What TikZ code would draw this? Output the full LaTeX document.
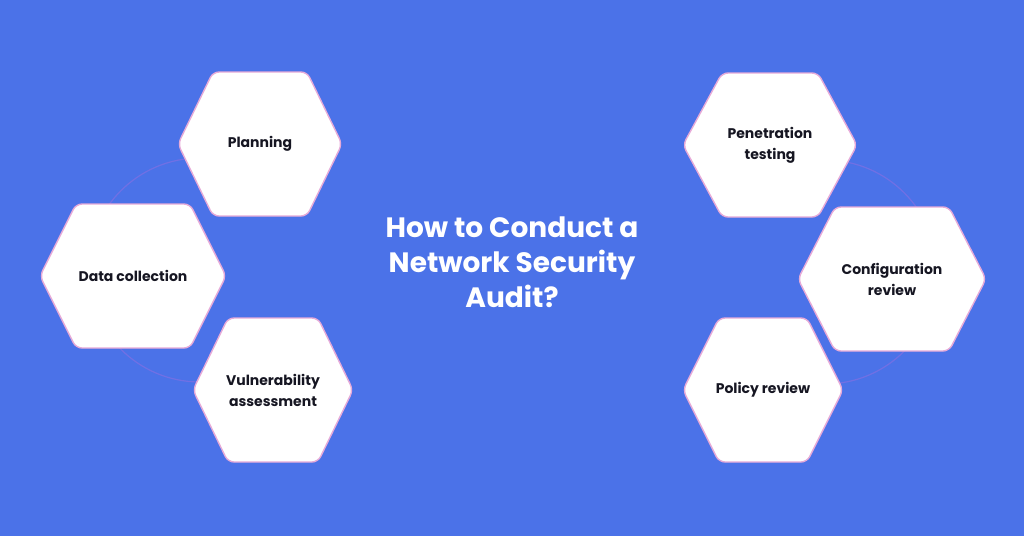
\documentclass[tikz,border=0pt]{standalone}
\usepackage{fontspec}
\setmainfont{Poppins}
\usepackage{xcolor}
\usepackage{tikz}
\usetikzlibrary{positioning}
\definecolor{bgblue}{RGB}{75,114,232}
\definecolor{hexpink}{RGB}{230,170,216}
\definecolor{ringviolet}{RGB}{112,112,228}
\definecolor{inkdark}{RGB}{22,22,34}

% hexagon step: name, centre, half width, half top edge, text
\newcommand{\hexstep}[5]{%
  \begin{scope}[shift={(#2)}]
    \draw[hexline] (0,-72) -- (#4,-72) -- (#3,0) -- (#4,72) -- (-#4,72) -- (-#3,0) -- (-#4,-72) -- cycle;
    \node[steplabel] (#1) at (0,0) {#5};
  \end{scope}}

\begin{document}
\begin{tikzpicture}[
        x=1pt, y=-1pt,
        hexline/.style={rounded corners=6pt, draw=hexpink, line width=1.4pt, fill=white},
        steplabel/.style={align=center, font=\bfseries\fontsize{14}{21}\selectfont, text=inkdark},
        ring/.style={draw=ringviolet, line width=1.2pt},
        heading/.style={align=center, font=\bfseries\fontsize{28}{35}\selectfont, text=white}
      ]
        \fill[bgblue] (0,0) rectangle (1024,536);
        \useasboundingbox (0,0) rectangle (1024,536);
        \coordinate (lring) at (200,270);
        \coordinate (rring) at (825,272);
        \draw[ring] (lring) ++(-112,0) arc[start angle=180, end angle=270, radius=112];
        \draw[ring] (lring) ++(-112,0) arc[start angle=180, end angle=90, radius=112];
        \draw[ring] (rring) ++(112,0) arc[start angle=0, end angle=-90, radius=112];
        \draw[ring] (rring) ++(112,0) arc[start angle=0, end angle=90, radius=112];
        \hexstep{plan}{260,144}{82}{47}{Planning}
        \hexstep{collect}{133,276}{93}{57}{Data collection}
        \hexstep{vuln}{273,390}{80}{45}{Vulnerability\\assessment}
        \hexstep{pentest}{770,145}{87}{48}{Penetration\\testing}
        \hexstep{config}{892,279}{94}{57}{Configuration\\review}
        \hexstep{policy}{763,390}{80}{44}{Policy review}
        \node[heading] (title) at (512,262) {How to Conduct a\\Network Security\\Audit?};
      \end{tikzpicture}
\end{document}
